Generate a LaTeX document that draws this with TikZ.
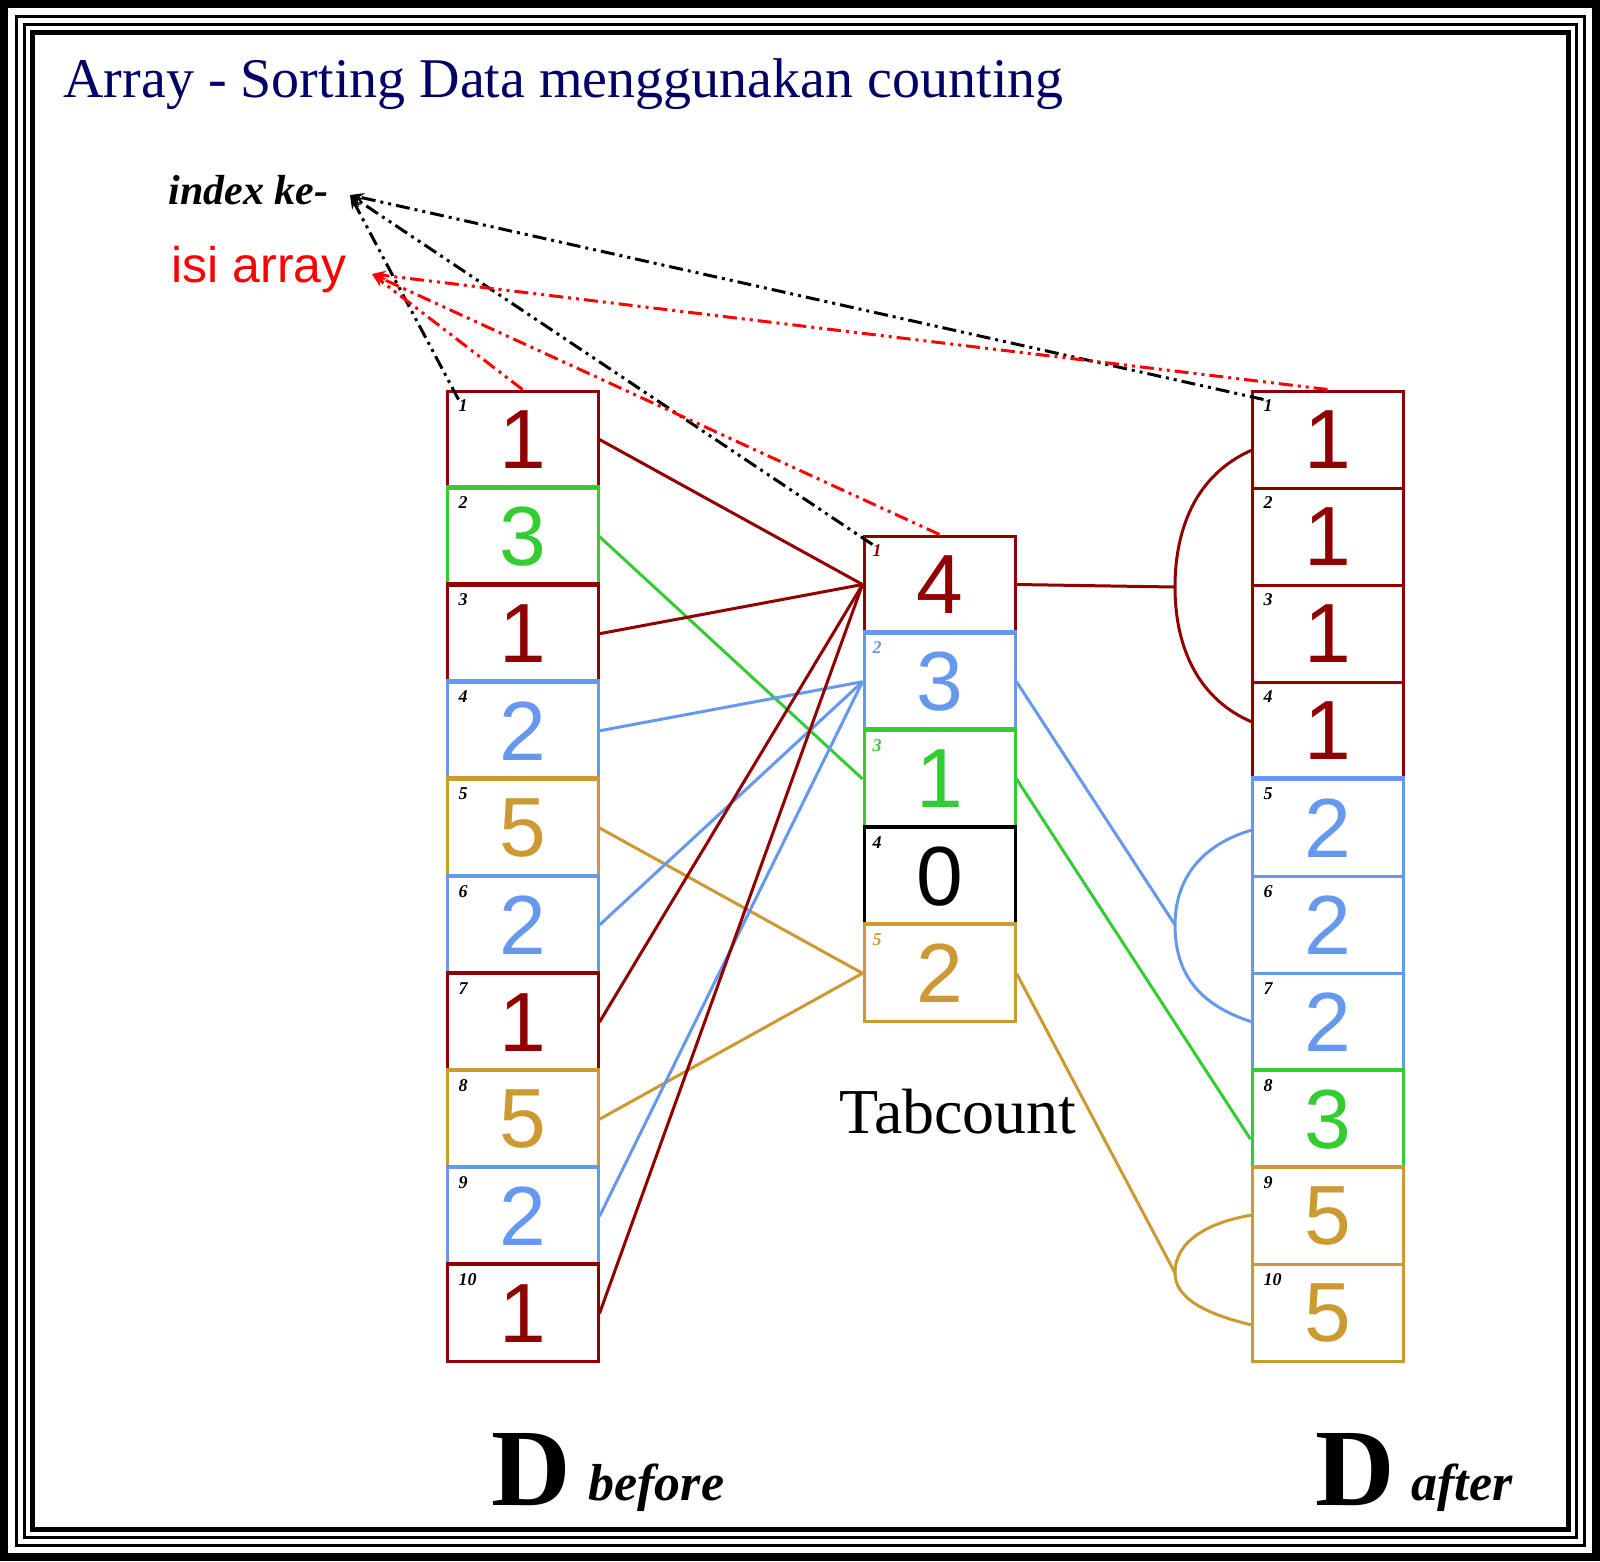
\documentclass[tikz,border=0pt]{standalone}
\usepackage{fontspec}
\setmainfont{Liberation Serif}
\newfontfamily\numfont{Liberation Sans}
\usetikzlibrary{arrows.meta}
\definecolor{cR}{RGB}{145,0,0}
\definecolor{cG}{RGB}{51,204,51}
\definecolor{cB}{RGB}{102,153,238}
\definecolor{cY}{RGB}{204,153,51}
\definecolor{cN}{RGB}{0,0,102}
\begin{document}
\begin{tikzpicture}[x=1pt,y=-1pt,
  cell/.style={draw=#1,line width=3pt,minimum width=151pt,minimum height=97pt,inner sep=0pt,text=#1,font=\numfont\fontsize{84}{84}\selectfont},
  idx/.style={text=#1,font=\itshape\bfseries\fontsize{18}{18}\selectfont,inner sep=0pt,anchor=north west},
  conn/.style={draw=#1,line width=3pt},
  dd/.style={line width=3pt,dash pattern=on 14pt off 5pt on 3pt off 5pt on 3pt off 5pt}]
\useasboundingbox (0,0) rectangle (1600,1561);
\fill[white] (0,0) rectangle (1600,1561);
\draw[line width=8pt] (4,4) rectangle (1596,1557);
\draw[line width=3pt] (16,16) rectangle (1584,1545);
\draw[line width=3pt] (24,24) rectangle (1576,1537);
\draw[line width=5pt] (32,32) rectangle (1568,1529);
\node[anchor=west,text=cN,font=\fontsize{56}{56}\selectfont] (title) at (60,84) {Array - Sorting Data menggunakan counting};
\node[anchor=west,font=\itshape\bfseries\fontsize{42}{42}\selectfont] (ik) at (165,190) {index ke-};
\node[anchor=west,text=red,font=\numfont\fontsize{50}{50}\selectfont] (isi) at (168,270) {isi array};
\coordinate (ikE) at (350,195);
\coordinate (isiE) at (372,274);
% left column
\foreach \v/\c [count=\i] in {1/cR,3/cG,1/cR,2/cB,5/cY,2/cB,1/cR,5/cY,2/cB,1/cR}{
  \node[cell=\c] (L\i) at (522.5,{391+97.1*(\i-1)+48.5}) {\v};
  \node[idx=black] (Li\i) at ([shift={(13,10)}]L\i.north west) {\i};
}
\foreach \v/\c [count=\i] in {4/cR,3/cB,1/cG,0/black,2/cY}{
  \node[cell=\c] (T\i) at (939.5,{536+97.2*(\i-1)+48.5}) {\v};
  \node[idx=\c] (Ti\i) at ([shift={(10,10)}]T\i.north west) {\i};
}
\foreach \v/\c [count=\i] in {1/cR,1/cR,1/cR,1/cR,2/cB,2/cB,2/cB,3/cG,5/cY,5/cY}{
  \node[cell=\c] (R\i) at (1327.5,{391+97.1*(\i-1)+48.5}) {\v};
  \node[idx=black] (Ri\i) at ([shift={(13,10)}]R\i.north west) {\i};
}
\foreach \i/\c in {2/cG,3/cR,4/cB,5/cY,6/cB,7/cR,8/cY,9/cB,10/cR}{\draw[\c,line width=3pt] (L\i.north west)--(L\i.north east);}
\foreach \i/\c in {2/cB,3/cG,4/black,5/cY}{\draw[\c,line width=3pt] (T\i.north west)--(T\i.north east);}
\foreach \i/\c in {5/cB,8/cG,9/cY}{\draw[\c,line width=3pt] (R\i.north west)--(R\i.north east);}
\node[font=\fontsize{64}{64}\selectfont] (tab) at (958,1112) {Tabcount};
\node[font=\bfseries\fontsize{110}{110}\selectfont,anchor=base west] (D1) at (488,1505) {D};
\node[font=\itshape\bfseries\fontsize{52}{52}\selectfont,anchor=base west] (b1) at (585,1500) {before};
\node[font=\bfseries\fontsize{110}{110}\selectfont,anchor=base west] (D2) at (1312,1505) {D};
\node[font=\itshape\bfseries\fontsize{52}{52}\selectfont,anchor=base west] (a2) at (1408,1500) {after};
\foreach \i/\t/\c in {1/1/cR,2/3/cG,3/1/cR,4/2/cB,5/5/cY,6/2/cB,7/1/cR,8/5/cY,9/2/cB,10/1/cR}{
  \draw[conn=\c] (L\i.east) -- (T\t.west);
}
\coordinate (m1) at (1175,587);
\coordinate (m2) at (1175,925);
\coordinate (m4) at (1175,1273);
\coordinate (r1) at (1252,450);
\coordinate (r4) at (1252,722);
\coordinate (r5) at (1252,830);
\coordinate (r7) at (1252,1022);
\coordinate (r9) at (1252,1215);
\coordinate (r10) at (1252,1325);
\draw[conn=cR] (T1.east) -- (m1);
\draw[conn=cR] (r1) .. controls (1195,475) and (1175,530) .. (m1) .. controls (1175,650) and (1200,700) .. (r4);
\draw[conn=cB] (T2.east) -- (m2);
\draw[conn=cB] (r5) .. controls (1200,845) and (1175,880) .. (m2) .. controls (1175,975) and (1200,1005) .. (r7);
\draw[conn=cG] (T3.east) -- ([yshift=-20pt]R8.east -| R8.west);
\draw[conn=cY] (T5.east) -- (m4);
\draw[conn=cY] (r9) .. controls (1210,1222) and (1175,1240) .. (m4) .. controls (1175,1300) and (1210,1315) .. (r10);
\draw[dd,-{Stealth[length=14pt,width=10pt]}] (Li1.north west) -- (ikE);
\draw[dd,-{Stealth[length=14pt,width=10pt]}] (Ti1.north west) -- (ikE);
\draw[dd,-{Stealth[length=14pt,width=10pt]}] (Ri1.north west) -- (ikE);
\draw[dd,red,-{Stealth[length=14pt,width=10pt]}] (L1.north) -- (isiE);
\draw[dd,red,-{Stealth[length=14pt,width=10pt]}] (T1.north) -- (isiE);
\draw[dd,red,-{Stealth[length=14pt,width=10pt]}] (R1.north) -- (isiE);
\end{tikzpicture}
\end{document}
